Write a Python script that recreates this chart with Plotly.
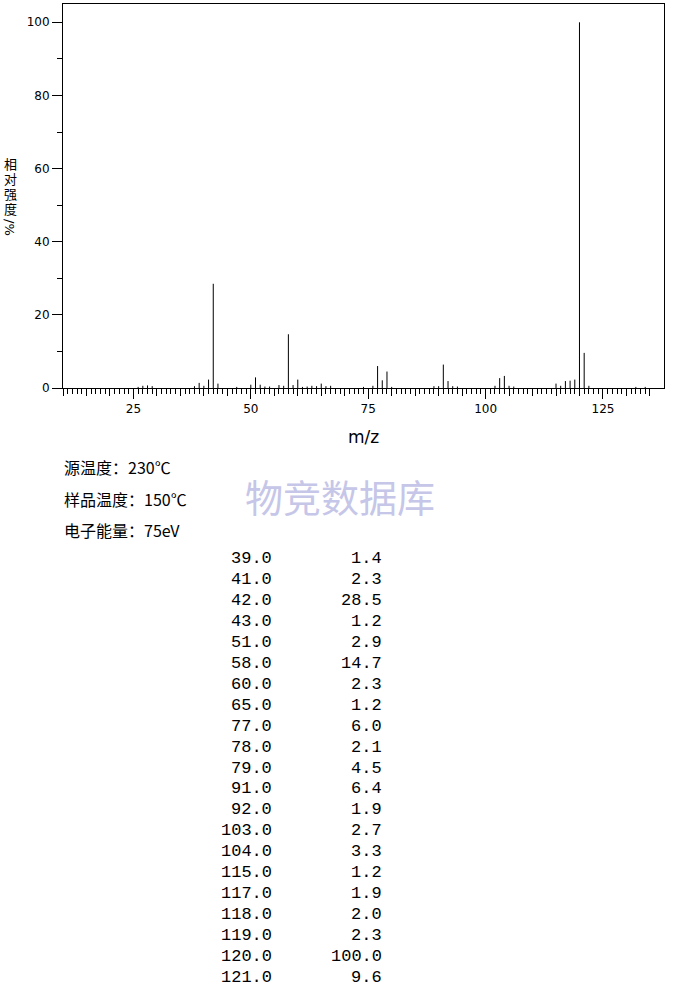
import plotly.graph_objects as go

# ---------------- data ----------------
spec_mz = [26, 27, 28, 29, 38, 39, 40, 41, 42, 43, 47, 50, 51, 52, 53, 54, 56, 57, 58, 59,
           60, 61, 62, 63, 64, 65, 66, 67, 74, 76, 77, 78, 79, 80, 89, 90, 91, 92, 93, 94,
           102, 103, 104, 105, 106, 115, 116, 117, 118, 119, 120, 121, 122, 132, 134]
spec_int = [0.3, 0.6, 0.7, 0.5, 0.5, 1.4, 0.6, 2.3, 28.5, 1.2, 0.3, 0.9, 2.9, 0.9, 0.4, 0.4, 0.8, 0.6, 14.7, 0.8,
            2.3, 0.3, 0.4, 0.6, 0.5, 1.2, 0.5, 0.6, 0.3, 0.6, 6.0, 2.1, 4.5, 0.3, 0.5, 0.5, 6.4, 1.9, 0.5, 0.4,
            0.6, 2.7, 3.3, 0.6, 0.4, 1.2, 0.6, 1.9, 2.0, 2.3, 100.0, 9.6, 0.6, 0.3, 0.3]

table_mz = [39.0, 41.0, 42.0, 43.0, 51.0, 58.0, 60.0, 65.0, 77.0, 78.0, 79.0,
            91.0, 92.0, 103.0, 104.0, 115.0, 117.0, 118.0, 119.0, 120.0, 121.0]
table_int = [1.4, 2.3, 28.5, 1.2, 2.9, 14.7, 2.3, 1.2, 6.0, 2.1, 4.5,
             6.4, 1.9, 2.7, 3.3, 1.2, 1.9, 2.0, 2.3, 100.0, 9.6]

x_major = [25, 50, 75, 100, 125]
x_mid = list(range(10, 136, 5))
x_minor = list(range(10, 136))
y_major = [0, 20, 40, 60, 80, 100]
y_minor = [10, 30, 50, 70, 90]

header_lines = ["源温度：230℃", "样品温度：150℃", "电子能量：75eV"]
y_label_chars = ["相", "对", "强", "度"]

# ---------------- layout geometry ----------------
W, H = 680, 992
L, R, T, B = 63, 16, 4, 604
PW, PH = W - L - R, H - T - B


def paper(px, py):
    return (px - L) / PW, (H - B - py) / PH


xs, ys = [], []
for m, v in zip(spec_mz, spec_int):
    xs += [m, m, None]
    ys += [0, v, None]

fig = go.Figure()
fig.add_trace(go.Scatter(x=xs, y=ys, mode="lines", line=dict(color="black", width=1),
                         hoverinfo="skip", showlegend=False))
fig.add_trace(go.Scatter(x=[None], y=[None], xaxis="x2", mode="lines",
                         hoverinfo="skip", showlegend=False))

tickfont = dict(family="DejaVu Sans", size=12, color="black")

fig.update_layout(
    width=W, height=H,
    margin=dict(l=L, r=R, t=T, b=B),
    paper_bgcolor="white", plot_bgcolor="white",
    showlegend=False,
    xaxis=dict(range=[10, 138], tickmode="array", tickvals=x_major,
               ticks="outside", ticklen=10, tickwidth=1, tickcolor="black",
               showline=True, linecolor="black", linewidth=1, mirror=True,
               showgrid=False, zeroline=False, tickfont=tickfont,
               minor=dict(tickmode="array", tickvals=x_minor, ticks="outside",
                          ticklen=5, tickwidth=1, tickcolor="black", showgrid=False)),
    xaxis2=dict(range=[10, 138], overlaying="x", anchor="y", side="bottom",
                tickmode="array", tickvals=x_mid, ticks="outside", ticklen=7,
                tickwidth=1, tickcolor="black", showticklabels=False,
                showline=False, showgrid=False, zeroline=False),
    yaxis=dict(range=[0, 105], tickmode="array", tickvals=y_major,
               ticks="outside", ticklen=10, tickwidth=1, tickcolor="black",
               showline=True, linecolor="black", linewidth=1, mirror=True,
               showgrid=False, zeroline=False, tickfont=tickfont,
               minor=dict(tickmode="array", tickvals=y_minor, ticks="outside",
                          ticklen=5, tickwidth=1, tickcolor="black", showgrid=False)),
)

ann = []


def add_text(text, px, py, size, family, xanchor="left", color="black", angle=0):
    x, y = paper(px, py)
    ann.append(dict(text=text, x=x, y=y, xref="paper", yref="paper", xanchor=xanchor,
                    yanchor="middle", showarrow=False, textangle=angle,
                    font=dict(family=family, size=size, color=color)))


# axis titles
add_text("m/z", 363, 437, 17, "DejaVu Sans", xanchor="center")
for i, ch in enumerate(y_label_chars):
    add_text(ch, 10, 163 + 15 * i, 13, "Noto Sans CJK SC", xanchor="center")
add_text("/%", 10, 227, 13, "DejaVu Sans", xanchor="center", angle=90)

# header info
for i, line in enumerate(header_lines):
    add_text(line, 62, 467 + 31.5 * i, 16, "Noto Sans CJK SC")

# watermark
add_text("物竞数据库", 340, 495, 38, "Noto Sans CJK SC", xanchor="center", color="#c6c6e8")

# peak table
for i, (m, v) in enumerate(zip(table_mz, table_int)):
    yy = 558 + 21 * i
    add_text(f"{m:.1f}", 274, yy, 17, "Liberation Mono", xanchor="right")
    add_text(f"{v:.1f}", 384, yy, 17, "Liberation Mono", xanchor="right")

fig.update_layout(annotations=ann)
fig.write_html("out.html", config={"displayModeBar": False},
               post_script="document.body.style.margin='0';document.body.style.padding='0';")
